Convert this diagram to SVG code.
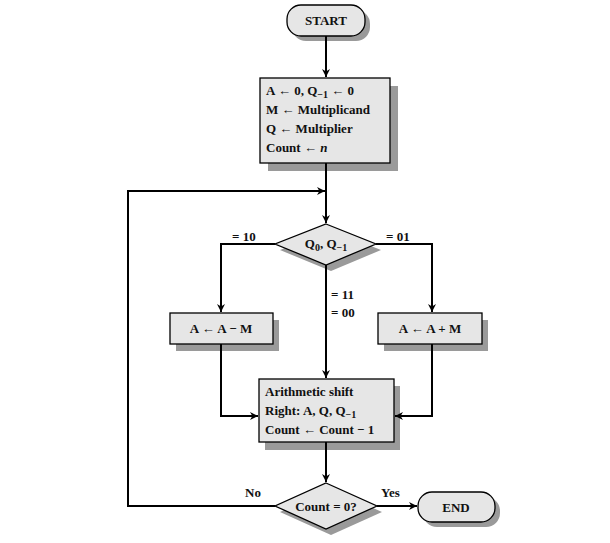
<svg xmlns="http://www.w3.org/2000/svg" width="610" height="543" viewBox="0 0 610 543">
<defs>
<marker id="ah" viewBox="0 0 10 10" refX="10" refY="5" markerWidth="8" markerHeight="8" markerUnits="userSpaceOnUse" orient="auto"><path d="M0,0 L10,5 L0,10 L3,5 z" fill="#000"/></marker>
<style>
.sh{fill:#9a9a9a}
.bx{fill:#e6e6e6;stroke:#000;stroke-width:1.3}
.t{font-family:"Liberation Serif",serif;font-weight:bold;font-size:13px;fill:#111}
.c{fill:none;stroke:#000;stroke-width:2}
</style>
</defs>
<rect width="610" height="543" fill="#fff"/>
<g id="start"><rect class="sh" x="292" y="10" width="78" height="31" rx="14"/><rect class="bx" x="287" y="5" width="78" height="31" rx="14"/><text class="t" x="326" y="25" text-anchor="middle">START</text></g>
<g id="init"><rect class="sh" x="268" y="86" width="130" height="85"/><rect class="bx" x="260" y="78" width="130" height="85"/>
<text class="t" x="266" y="95">A ← 0, Q<tspan font-size="10" dy="3">−1</tspan><tspan dy="-3"> ← 0</tspan></text>
<text class="t" x="266" y="114">M ← Multiplicand</text>
<text class="t" x="266" y="133">Q ← Multiplier</text>
<text class="t" x="266" y="152">Count ← <tspan font-style="italic">n</tspan></text></g>
<g id="dec1"><polygon class="sh" points="331,230 381,250 331,271 280,250"/><polygon class="bx" points="326,224 376,244 326,265 275,244"/>
<text class="t" x="326" y="248" text-anchor="middle">Q<tspan font-size="10" dy="3">0</tspan><tspan dy="-3">, Q</tspan><tspan font-size="10" dy="3">−1</tspan></text></g>
<g id="sub"><rect class="sh" x="176" y="320" width="103" height="31"/><rect class="bx" x="170" y="313" width="103" height="31"/><text class="t" x="221" y="333" text-anchor="middle">A ← A − M</text></g>
<g id="add"><rect class="sh" x="384" y="320" width="104" height="31"/><rect class="bx" x="378" y="313" width="104" height="31"/><text class="t" x="430" y="333" text-anchor="middle">A ← A + M</text></g>
<g id="shift"><rect class="sh" x="265" y="386" width="135" height="64"/><rect class="bx" x="259" y="379" width="135" height="63"/>
<text class="t" x="265" y="396">Arithmetic shift</text>
<text class="t" x="265" y="415">Right: A, Q, Q<tspan font-size="10" dy="3">−1</tspan></text>
<text class="t" x="265" y="434">Count ← Count − 1</text></g>
<g id="dec2"><polygon class="sh" points="331,489 382,512 331,535 280,512"/><polygon class="bx" points="326,483 377,506 326,529 275,506"/><text class="t" x="326" y="511" text-anchor="middle">Count = 0?</text></g>
<g id="end"><rect class="sh" x="423" y="497" width="77" height="30" rx="14"/><rect class="bx" x="418" y="492" width="77" height="30" rx="14"/><text class="t" x="456" y="512" text-anchor="middle">END</text></g>
<g id="connectors">
<path class="c" d="M326,36 V77" marker-end="url(#ah)"/>
<path class="c" d="M326,163 V223" marker-end="url(#ah)"/>
<path class="c" d="M128,506 H275 M128,507 V191 H325" marker-end="url(#ah)"/>
<path class="c" d="M275,244 H221 V312" marker-end="url(#ah)"/>
<path class="c" d="M376,244 H432 V312" marker-end="url(#ah)"/>
<path class="c" d="M326,265 V378" marker-end="url(#ah)"/>
<path class="c" d="M221,344 V416 H258" marker-end="url(#ah)"/>
<path class="c" d="M432,344 V416 H395" marker-end="url(#ah)"/>
<path class="c" d="M326,442 V482" marker-end="url(#ah)"/>
<path class="c" d="M377,506 H417" marker-end="url(#ah)"/>
<text class="t" x="232" y="241">= 10</text>
<text class="t" x="386" y="241">= 01</text>
<text class="t" x="331" y="299">= 11</text>
<text class="t" x="331" y="317">= 00</text>
<text class="t" x="245" y="497">No</text>
<text class="t" x="381" y="497">Yes</text>
</g>
</svg>
